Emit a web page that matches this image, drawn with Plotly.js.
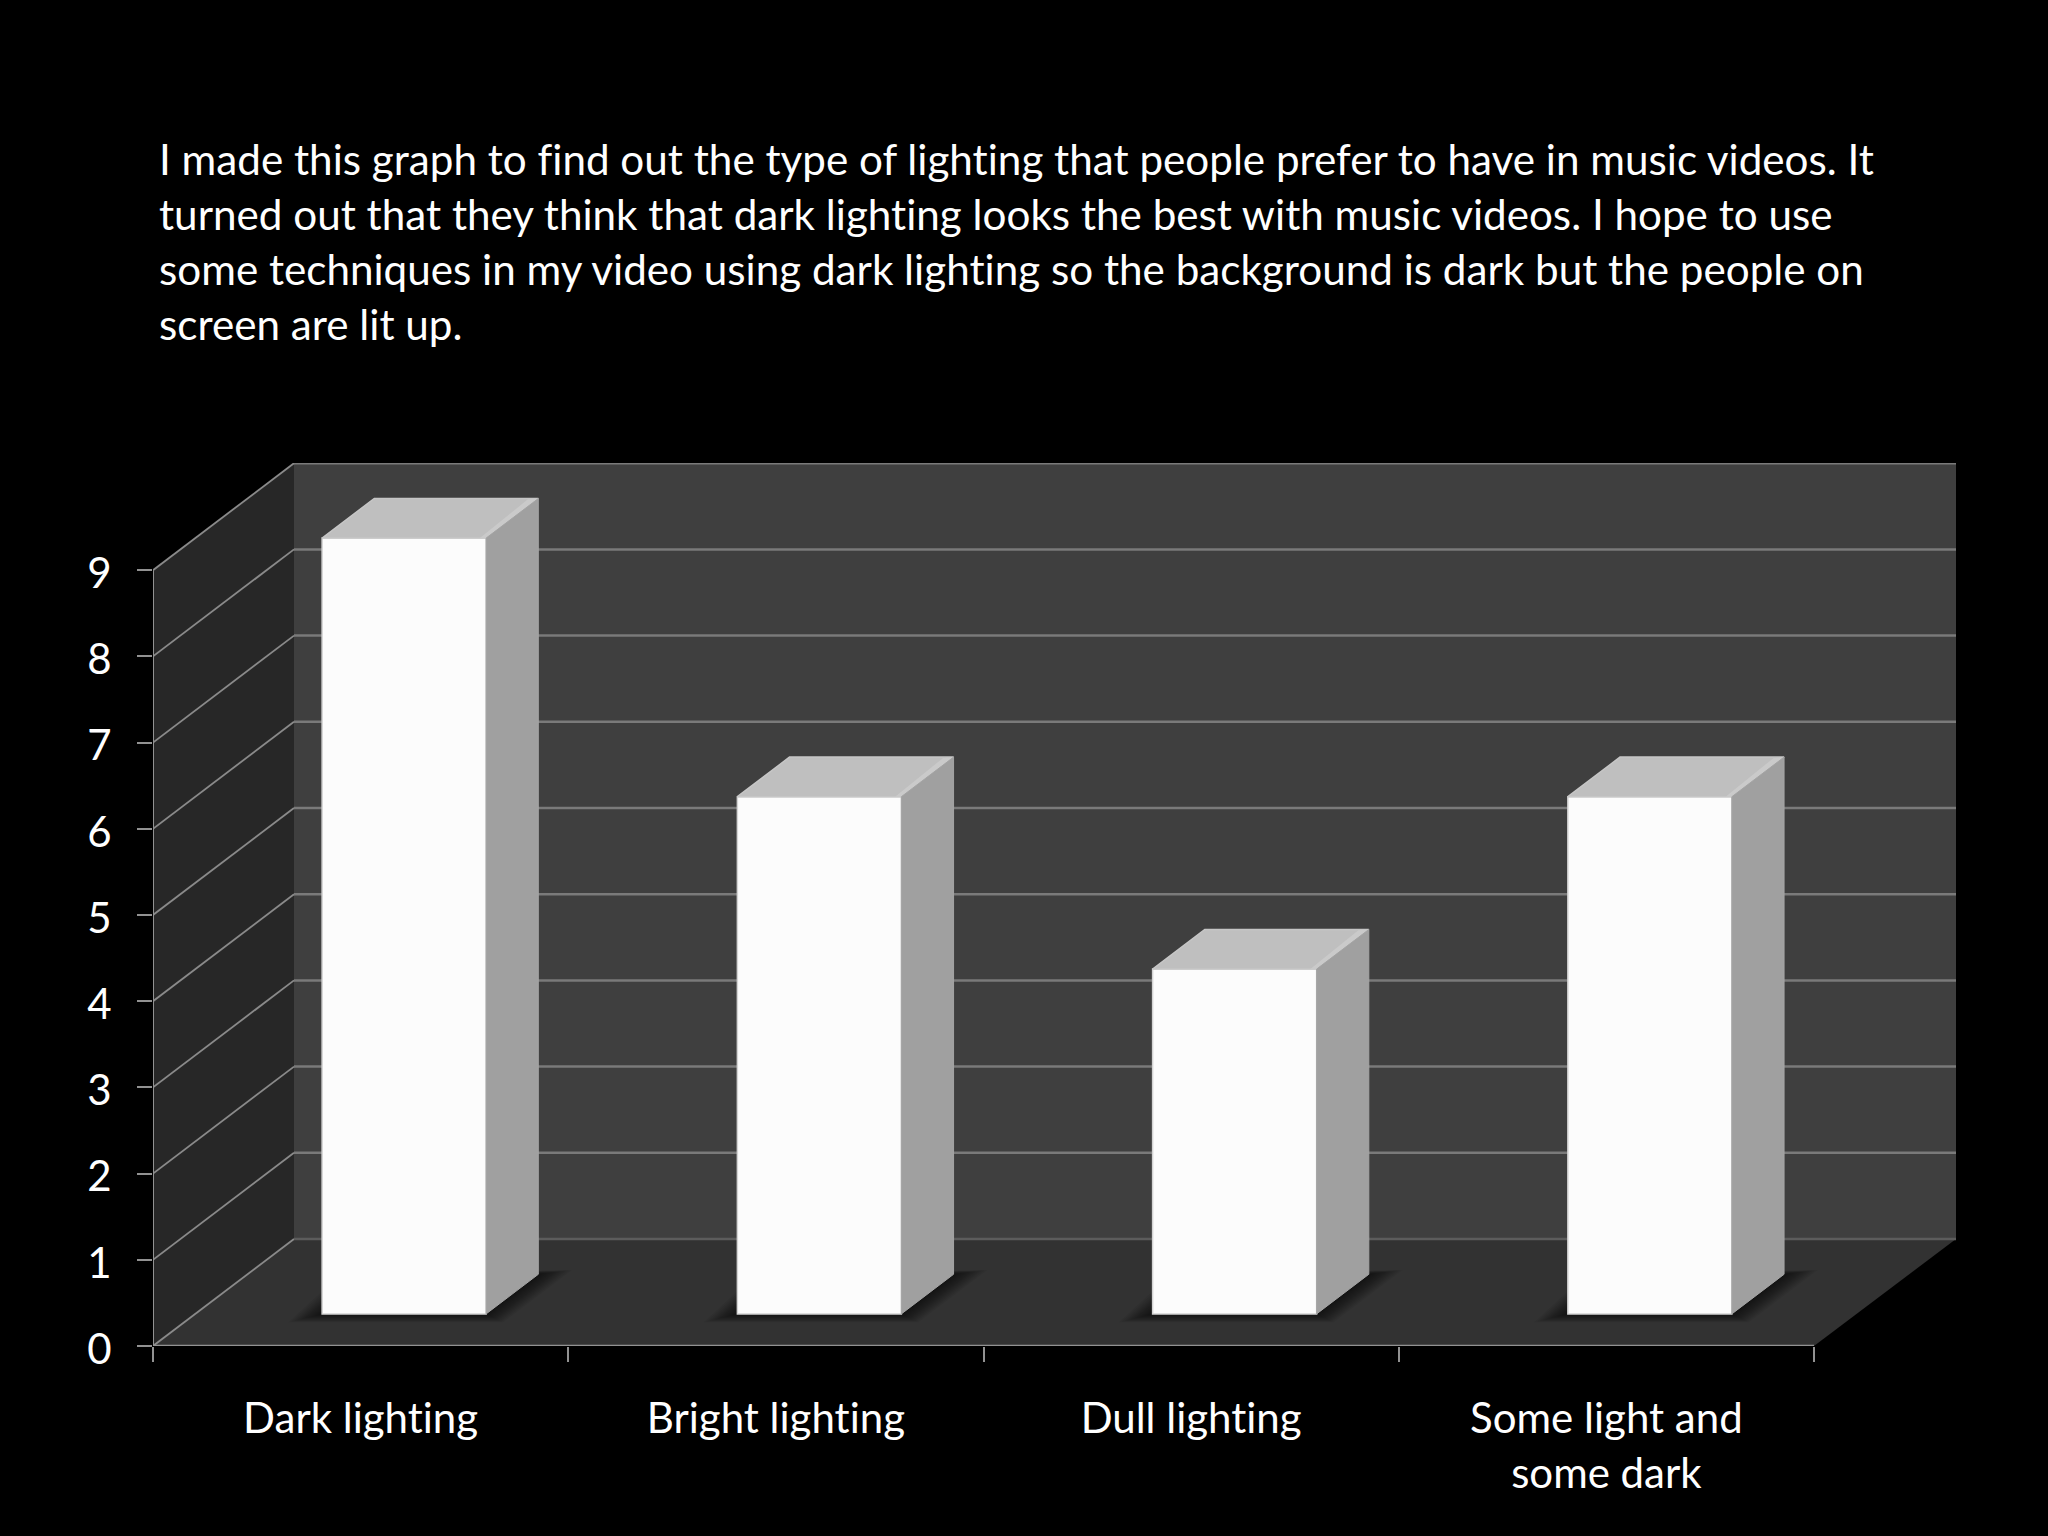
<!DOCTYPE html>
<html><head><meta charset="utf-8">
<script src="https://cdn.plot.ly/plotly-3.0.1.min.js"></script>
<style>html,body{margin:0;padding:0;background:#000} text{font-variant-ligatures:none;font-feature-settings:"liga" 0,"clig" 0}</style></head>
<body><div id="chart" style="width:2048px;height:1536px"></div>
<script>
const categories = ["Dark lighting","Bright lighting","Dull lighting","Some light and<br>some dark"];
const values = [9,6,4,6];
const yTicks = [0,1,2,3,4,5,6,7,8,9];
const xBoundaries = [0,1,2,3,4];
const paragraph = [
 "I made this graph to find out the type of lighting that people prefer to have in music videos. It",
 "turned out that they think that dark lighting looks the best with music videos. I hope to use",
 "some techniques in my video using dark lighting so the background is dark but the people on",
 "screen are lit up."
];
const paragraphY = [159,214,269,324];

// geometry in axis units
const pxX = 415.25, pxY = 86.2;
const plotL = 153, plotR = 1956, plotT = 463, plotB = 1346;
const depthX = 141/pxX, depthY = 107/pxY;
const xMax = (plotR-plotL)/pxX, yMax = (plotB-plotT)/pxY;
const barW = 0.395, fDepth = 0.30, bDepth = 0.67, barShift = 1.2/pxX;
const yMaxTick = yTicks[yTicks.length-1];

const GRID = '#7a7a7a';
function poly(pts, fill, layer){
  return {type:'path', xref:'x', yref:'y', layer:layer||'below', line:{width:0},
    fillcolor:fill, path:'M'+pts.map(p=>p[0]+','+p[1]).join(' L')+' Z'};
}
function seg(x0,y0,x1,y1,c,w){
  return {type:'line',xref:'x',yref:'y',layer:'below',x0,y0,x1,y1,line:{color:c||GRID,width:w||2}};
}
const shapes = [];
// walls and floor
shapes.push(poly([[depthX,0+depthY],[depthX,yMaxTick+depthY],[xMax,yMaxTick+depthY],[xMax,depthY]],'#3f3f3f'));
shapes.push(poly([[0,0],[0,yMaxTick],[depthX,yMaxTick+depthY],[depthX,depthY]],'#272727'));
shapes.push(poly([[0,0],[depthX,depthY],[xMax,depthY],[4,0]],'#323232'));
// gridlines
yTicks.forEach(v=>{
  shapes.push(seg(0,v,depthX,v+depthY,'#8a8a8a',1.8));
  shapes.push(seg(depthX,v+depthY,xMax,v+depthY,v===0?'#5c5c5c':GRID,2.5));
});
// bar shadows on the floor
values.forEach((v,i)=>{
  const cx=i+0.5+barShift;
  for(let k=12;k>=1;k--){
    const ex=k*2.8/pxX, ey=k*0.7/pxY;
    const x0=cx-barW/2+fDepth*depthX-ex, x1=cx+barW/2+fDepth*depthX+ex*0.5;
    const y0=fDepth*depthY-ey;
    shapes.push(poly([[x0,y0],[x1,y0],[cx+barW/2+bDepth*depthX+ex,bDepth*depthY+ey*0.5],
      [x0+(bDepth-fDepth)*depthX,bDepth*depthY]],'rgba(0,0,0,0.06)'));
  }
});
// axis lines
shapes.push(seg(0,0,xBoundaries[xBoundaries.length-1],0,'#929292',2.5));
shapes.push(seg(0,0,0,yMaxTick,'#929292',2));

// 3D faces derived from the data
const topX=[],topY=[],sideX=[],sideY=[],bevelX=[],bevelY=[];
values.forEach((v,i)=>{
  const l=i+0.5+barShift-barW/2+fDepth*depthX, r=l+barW;
  const dx=(bDepth-fDepth)*depthX, dy=(bDepth-fDepth)*depthY;
  const b=fDepth*depthY, t=v+b;
  topX.push(l,l+dx,r+dx,r,l,null); topY.push(t,t+dy,t+dy,t,t,null);
  sideX.push(r,r+dx,r+dx,r,r,null); sideY.push(b,b+dy,t+dy,t,b,null);
  bevelX.push(r,r+dx,r+dx*0.8,r-dx*0.12,null); bevelY.push(t,t+dy,t+dy*0.98,t,null);
});
const base = values.map(()=>fDepth*depthY);
const data = [
 {type:'bar',x:values.map((v,i)=>i+0.5+barShift+fDepth*depthX),y:values,base:base,width:barW,
  marker:{color:'#fcfcfc',line:{color:'#d4d4d4',width:1.5}},hoverinfo:'skip',showlegend:false},
 {type:'scatter',mode:'lines',x:topX,y:topY,fill:'toself',fillcolor:'#bfbfbf',line:{color:'#c6c6c6',width:1.5},hoverinfo:'skip',showlegend:false},
 {type:'scatter',mode:'lines',x:bevelX,y:bevelY,fill:'toself',fillcolor:'#cacaca',line:{width:0},hoverinfo:'skip',showlegend:false},
 {type:'scatter',mode:'lines',x:sideX,y:sideY,fill:'toself',fillcolor:'#a0a0a0',line:{color:'#a4a4a4',width:1},hoverinfo:'skip',showlegend:false}
];
const FONT='Lato, "Open Sans", sans-serif';
const annotations = paragraph.map((t,i)=>({
  text:t,xref:'paper',yref:'paper',xanchor:'left',yanchor:'middle',align:'left',showarrow:false,
  x:(156.5-plotL)/(plotR-plotL), y:(plotB-paragraphY[i]+0.5)/(plotB-plotT),
  font:{family:FONT,size:42.2,color:'#ffffff'}
}));
const layout = {
  width:2048,height:1536,paper_bgcolor:'#000',plot_bgcolor:'#000',showlegend:false,
  margin:{l:plotL,r:2048-plotR,t:plotT,b:1536-plotB,pad:0},
  bargap:0,
  font:{family:FONT,color:'#fff'},
  xaxis:{range:[0,xMax],fixedrange:true,showgrid:false,zeroline:false,showline:false,
    tickmode:'array',tickvals:categories.map((c,i)=>i+0.5),ticktext:categories,ticks:'',
    ticklabelstandoff:44,tickfont:{family:FONT,size:42,color:'#fff'},tickangle:0,
    minor:{tickmode:'array',tickvals:xBoundaries,ticks:'outside',ticklen:15,tickwidth:2,tickcolor:'#929292',showgrid:false}},
  yaxis:{range:[0,yMax],fixedrange:true,showgrid:false,zeroline:false,showline:false,
    tickmode:'array',tickvals:yTicks,ticktext:yTicks.map(String),ticks:'outside',ticklen:15,tickwidth:2,tickcolor:'#929292',
    ticklabelstandoff:17,tickfont:{family:FONT,size:42,color:'#fff'}},
  shapes,annotations
};
Plotly.newPlot('chart',data,layout,{displayModeBar:false,staticPlot:true}).then(()=>{
  document.querySelectorAll('.ytick text').forEach(t=>t.setAttribute('dy','3'));
});
</script></body></html>
